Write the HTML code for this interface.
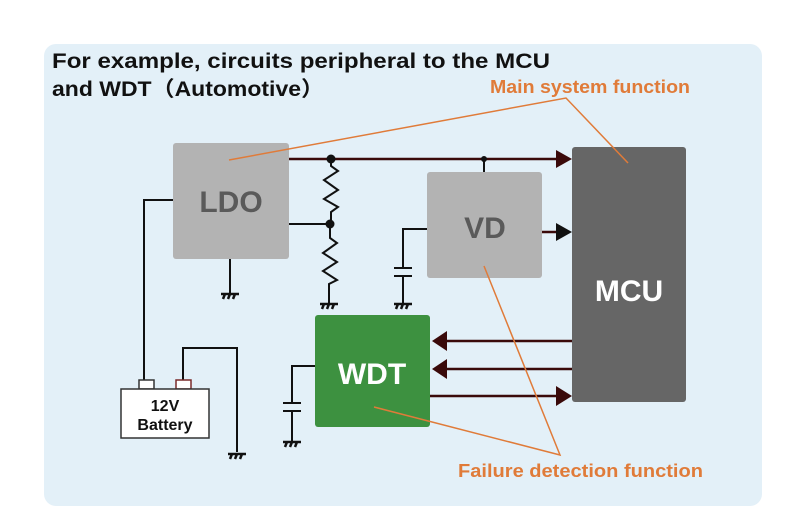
<!DOCTYPE html>
<html><head><meta charset="utf-8"><style>
body{margin:0;background:#fff}
svg{display:block}
text{font-family:"Liberation Sans","Noto Sans CJK JP",sans-serif;font-weight:bold}
</style></head><body>
<svg width="800" height="532" viewBox="0 0 800 532" xmlns="http://www.w3.org/2000/svg">
<rect x="44" y="44" width="718" height="462" rx="12" fill="#e3f0f8"/>
<text x="52" y="68" font-size="21" fill="#111" textLength="498" lengthAdjust="spacingAndGlyphs">For example, circuits peripheral to the MCU</text>
<text x="52" y="96" font-size="21" fill="#111" textLength="272" lengthAdjust="spacingAndGlyphs">and WDT（Automotive）</text>
<text x="490" y="93" font-size="18" fill="#e07b39" textLength="200" lengthAdjust="spacingAndGlyphs">Main system function</text>
<text x="458" y="477" font-size="18" fill="#e07b39" textLength="245" lengthAdjust="spacingAndGlyphs">Failure detection function</text>

<!-- wires -->
<g stroke="#111" stroke-width="2" fill="none">
<polyline points="173,200 144,200 144,381"/>
<polyline points="183,381 183,348 237,348 237,452"/>
<line x1="230" y1="259" x2="230" y2="293"/>
<line x1="289" y1="224" x2="330" y2="224"/>
<polyline points="331,159 331,166 338,171 324,180 338,190 324,199 338,207 331,212 331,224"/>
<polyline points="330,224 330,238 337,243 323,253 337,262 323,271 337,280 329,284 329,303"/>
<line x1="484" y1="159" x2="484" y2="172"/>
<polyline points="427,229 403,229 403,268"/>
<line x1="403" y1="276" x2="403" y2="303"/>
<line x1="394" y1="268" x2="412" y2="268"/>
<line x1="394" y1="276" x2="412" y2="276"/>
<polyline points="315,366 292,366 292,403"/>
<line x1="292" y1="411" x2="292" y2="441"/>
<line x1="283" y1="403" x2="301" y2="403"/>
<line x1="283" y1="411" x2="301" y2="411"/>
</g>
<!-- grounds -->
<g stroke="#111" stroke-width="2.5" fill="none">
<path d="M221,294h18M225,294l-2,5M230,294l-2,5M235,294l-2,5"/>
<path d="M320,304h18M324,304l-2,5M329,304l-2,5M334,304l-2,5"/>
<path d="M394,304h18M398,304l-2,5M403,304l-2,5M408,304l-2,5"/>
<path d="M283,442h18M287,442l-2,5M292,442l-2,5M297,442l-2,5"/>
<path d="M228,454h18M232,454l-2,5M237,454l-2,5M242,454l-2,5"/>
</g>
<!-- power lines -->
<g stroke="#3a0a0a" stroke-width="2.5">
<line x1="289" y1="159" x2="560" y2="159"/>
<line x1="542" y1="232" x2="560" y2="232"/>
<line x1="442" y1="341" x2="572" y2="341"/>
<line x1="442" y1="369" x2="572" y2="369"/>
<line x1="430" y1="396" x2="560" y2="396"/>
</g>
<g fill="#3a0a0a">
<polygon points="572,159 556,150 556,168"/>
<polygon points="572,232 556,223 556,241" fill="#111"/>
<polygon points="432,341 447,331 447,351"/>
<polygon points="432,369 447,359 447,379"/>
<polygon points="572,396 556,386 556,406"/>
</g>
<circle cx="331" cy="159" r="4.5" fill="#111"/>
<circle cx="330" cy="224" r="4.5" fill="#111"/>
<circle cx="484" cy="159" r="3" fill="#111"/>
<!-- blocks -->
<rect x="173" y="143" width="116" height="116" rx="3" fill="#b3b3b3"/>
<text x="231" y="212" font-size="30" fill="#5a5a5a" text-anchor="middle">LDO</text>
<rect x="427" y="172" width="115" height="106" rx="3" fill="#b3b3b3"/>
<text x="485" y="238" font-size="30" fill="#5a5a5a" text-anchor="middle">VD</text>
<rect x="572" y="147" width="114" height="255" rx="3" fill="#666"/>
<text x="629" y="301" font-size="30" fill="#fff" text-anchor="middle">MCU</text>
<rect x="315" y="315" width="115" height="112" rx="3" fill="#3d9140"/>
<text x="372" y="384" font-size="30" fill="#fff" text-anchor="middle">WDT</text>
<!-- battery -->
<rect x="139" y="380" width="15" height="9" fill="#fff" stroke="#333" stroke-width="1.5"/>
<rect x="176" y="380" width="15" height="9" fill="#fff" stroke="#7a2a2a" stroke-width="1.5"/>
<rect x="121" y="389" width="88" height="49" fill="#fff" stroke="#333" stroke-width="1.5"/>
<text x="165" y="411" font-size="16" fill="#111" text-anchor="middle">12V</text>
<text x="165" y="430" font-size="16" fill="#111" text-anchor="middle">Battery</text>
<!-- orange callouts -->
<g stroke="#e07b39" stroke-width="1.5" fill="none">
<polyline points="229,160 566,98 628,163"/>
<polyline points="374,407 560,455 484,266"/>
</g>
</svg>
</body></html>
